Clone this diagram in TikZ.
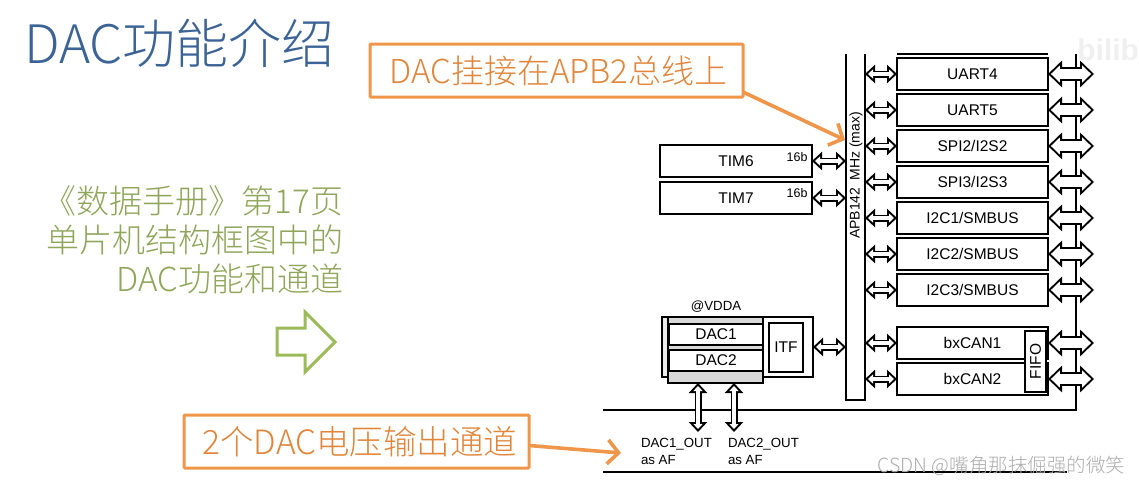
\documentclass[tikz,border=0pt]{standalone}
\usepackage{fontspec}
\setmainfont{Liberation Sans}
\newfontfamily\cjk{Noto Sans CJK SC Light}
\usetikzlibrary{positioning, arrows.meta}
\definecolor{titleblue}{HTML}{3B6395}
\definecolor{notegreen}{HTML}{8FA65A}
\definecolor{hintgreen}{HTML}{9BBB59}
\definecolor{noteorange}{HTML}{F0964A}
\definecolor{notetext}{HTML}{E0853A}
\tikzset {
    x=1pt,
    y=-1pt,
    node distance=4pt,
    every node/.style={inner sep=0pt, outer sep=0pt},
    block/.style={draw, line width=1.6pt, minimum height=32pt, font=\fontsize{15.5}{18}\selectfont},
    periph/.style={block, minimum width=151pt},
    timer/.style={block, minimum width=152pt},
    small/.style={font=\fontsize{13.3}{17}\selectfont},
    note/.style={draw=noteorange, line width=3pt, rounded corners=1pt, text=notetext, font=\cjk\fontsize{33}{38}\selectfont},
    notearrow/.style={draw=noteorange, line width=3.6pt, -{Straight Barb[length=11pt,width=24pt]}},
    apbouter/.style={line width=7pt, {Triangle[length=10pt,width=18pt]}-{Triangle[length=10pt,width=18pt]}},
    apbinner/.style={draw=white, line width=3.2pt, shorten <=3pt, shorten >=3pt, {Triangle[length=5pt,width=9pt]}-{Triangle[length=5pt,width=9pt]}},
    apbarrow/.style={to path={\pgfextra{
        \draw[apbouter] (\tikztostart) -- (\tikztotarget);
        \draw[apbinner] (\tikztostart) -- (\tikztotarget);
    }}},
    busouter/.style={line width=14pt, {Triangle[length=14pt,width=26pt]}-{Triangle[length=14pt,width=26pt]}},
    businner/.style={draw=white, line width=10pt, shorten <=2.9pt, shorten >=2.9pt, {Triangle[length=9pt,width=16.7pt]}-{Triangle[length=9pt,width=16.7pt]}},
    busarrow/.style={to path={\pgfextra{
        \draw[busouter] (\tikztostart) -- (\tikztotarget);
        \draw[businner] (\tikztostart) -- (\tikztotarget);
    }}}
}

\begin{document}
\begin{tikzpicture}
    \useasboundingbox (0,0) rectangle (1139,485);

    % slide texts
    \node[anchor=west, text=titleblue, font=\cjk\fontsize{53}{60}\selectfont] (title) at (24,43) {DAC功能介绍};
    \node[anchor=east, align=right, text=notegreen, font=\cjk\fontsize{33}{39}\selectfont] (manual) at (343,240) {《数据手册》第17页\\单片机结构框图中的\\DAC功能和通道};
    \draw[draw=hintgreen, line width=3pt, miter limit=4] (277,328) -- (305,328) -- (305,312) -- (335,342) -- (305,372) -- (305,355) -- (277,355) -- cycle;

    % bus lines
    \coordinate (bustop) at (1076,54);
    \coordinate (buscorner) at (1076,410);
    \coordinate (busleft) at (603,410);
    \coordinate (baseleft) at (603,472);
    \coordinate (baseright) at (1067,472);
    \coordinate (rightend) at (1094,54);
    \coordinate (stubleft) at (897,54);
    \coordinate (stubright) at (1048,54);
    \draw[line width=2.6pt] (bustop) -- (buscorner) -- (busleft);
    \draw[line width=1.4pt] (baseleft) -- (baseright);
    \draw[line width=1.6pt] (stubleft) -- (stubright);

    % APB bus
    \node[minimum width=19pt, minimum height=346pt] (apb) at (855.5,227) {};
    \draw[line width=1.6pt] (apb.north west) -- (apb.south west) -- (apb.south east) -- (apb.north east);
    \node[rotate=90, font=\fontsize{14}{17}\selectfont] (apbtext) at (856,175.5) {APB142\enspace MHz (max)};

    % peripherals
    \node[periph] (uart4) at (972.5,74) {UART4};
    \node[periph, below=of uart4] (uart5) {UART5};
    \node[periph, below=of uart5] (spi2) {SPI2/I2S2};
    \node[periph, below=of spi2] (spi3) {SPI3/I2S3};
    \node[periph, below=of spi3] (i2c1) {I2C1/SMBUS};
    \node[periph, below=of i2c1] (i2c2) {I2C2/SMBUS};
    \node[periph, below=of i2c2] (i2c3) {I2C3/SMBUS};
    \node[periph, below=21pt of i2c3] (can1) {bxCAN1};
    \node[periph, below=of can1] (can2) {bxCAN2};
    \node[draw, fill=white, line width=1.6pt, rotate=90, minimum width=61pt, minimum height=21pt, font=\fontsize{15.5}{18}\selectfont] (fifo) at (1035.5,361.5) {FIFO};

    % timers
    \node[timer] (tim6) at (736,161) {TIM6};
    \node[timer, below=5pt of tim6] (tim7) {TIM7};
    \node[anchor=north east, xshift=-4.5pt, yshift=-7pt, font=\fontsize{12.5}{15}\selectfont] (tim6b) at (tim6.north east) {16b};
    \node[anchor=north east, xshift=-4.5pt, yshift=-6pt, font=\fontsize{12.5}{15}\selectfont] (tim7b) at (tim7.north east) {16b};

    % DAC block
    \node[draw, line width=1.6pt, fill=white, minimum width=151pt, minimum height=60pt] (dacbox) at (737.5,347) {};
    \node[draw, line width=1.6pt, fill=gray!30, minimum width=95pt, minimum height=66pt] (dacgrey) at (715.5,350) {};
    \node[draw, line width=1.2pt, fill=gray!15, minimum width=6pt, minimum height=60pt] (dacstrip) at (665,347) {};
    \node[block, fill=white, minimum width=94pt, minimum height=21pt] (dac1) at (716,334.5) {DAC1};
    \node[block, fill=white, minimum width=94pt, minimum height=21pt] (dac2) at (716,360.5) {DAC2};
    \node[block, minimum width=34pt, minimum height=49pt] (itf) at (786,347.5) {ITF};
    \node[small] (vdda) at (716,307) {@VDDA};

    \node[anchor=north west, align=left, small] (out1text) at (641,438) {DAC1\_OUT\\as AF};
    \node[anchor=north west, align=left, small] (out2text) at (728,438) {DAC2\_OUT\\as AF};
    \coordinate (out1) at (698,432);
    \coordinate (out2) at (734,432);

    % hollow arrows
    \draw
    (uart4.west) edge[apbarrow] (apb.east |- uart4.west)
    (uart5.west) edge[apbarrow] (apb.east |- uart5.west)
    (spi2.west) edge[apbarrow] (apb.east |- spi2.west)
    (spi3.west) edge[apbarrow] (apb.east |- spi3.west)
    (i2c1.west) edge[apbarrow] (apb.east |- i2c1.west)
    (i2c2.west) edge[apbarrow] (apb.east |- i2c2.west)
    (i2c3.west) edge[apbarrow] (apb.east |- i2c3.west)
    (can1.west) edge[apbarrow] (apb.east |- can1.west)
    (can2.west) edge[apbarrow] (apb.east |- can2.west)
    (tim6.east) edge[apbarrow] (apb.west |- tim6.east)
    (tim7.east) edge[apbarrow] (apb.west |- tim7.east)
    (dacbox.east) edge[apbarrow] (apb.west |- dacbox.east)
    (out1 |- dacgrey.south) edge[apbarrow] (out1)
    (out2 |- dacgrey.south) edge[apbarrow] (out2);

    \draw
    (uart4.east) edge[busarrow] (rightend |- uart4.east)
    (uart5.east) edge[busarrow] (rightend |- uart5.east)
    (spi2.east) edge[busarrow] (rightend |- spi2.east)
    (spi3.east) edge[busarrow] (rightend |- spi3.east)
    (i2c1.east) edge[busarrow] (rightend |- i2c1.east)
    (i2c2.east) edge[busarrow] (rightend |- i2c2.east)
    (i2c3.east) edge[busarrow] (rightend |- i2c3.east)
    (can1.east) edge[busarrow] (rightend |- can1.east)
    (can2.east) edge[busarrow] (rightend |- can2.east);

    % callouts
    \node[note, minimum width=373pt, minimum height=53pt] (noteapb) at (556.5,70.5) {\hspace*{4pt}DAC挂接在APB2总线上};
    \node[note, font=\cjk\fontsize{33.5}{38}\selectfont, minimum width=345pt, minimum height=53pt] (notedac) at (356.5,441.5) {\hspace*{7pt}2个DAC电压输出通道};
    \coordinate (apbpoint) at (845,140);
    \coordinate (outpoint) at (621,453);
    \draw[notearrow] (noteapb.south east) ++(0,-5) -- (apbpoint);
    \draw[notearrow] (notedac.east) ++(0,4) -- (outpoint);

    % watermarks
    \node[anchor=east, text=gray!65, font=\cjk\fontsize{19.5}{22}\selectfont] (csdn) at (1125,466) {CSDN @嘴角那抹倔强的微笑};
    \node[anchor=east, text=gray!12, font=\bfseries\fontsize{30}{32}\selectfont] (bili) at (1139,50) {bilib};
\end{tikzpicture}
\end{document}
